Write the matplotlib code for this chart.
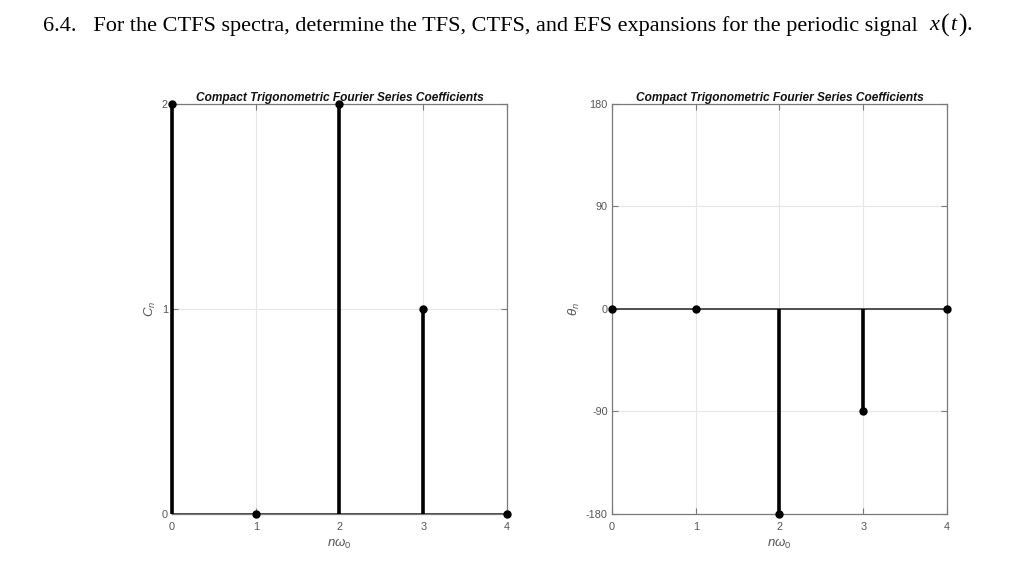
import matplotlib
matplotlib.use("Agg")
import matplotlib.pyplot as plt

n_values = [0, 1, 2, 3, 4]
cn_values = [2, 0, 2, 1, 0]
theta_values = [0, 0, -180, -90, 0]
cn_ticks = [0, 1, 2]
theta_ticks = [-180, -90, 0, 90, 180]
x_ticks = [0, 1, 2, 3, 4]
title_text = "Compact Trigonometric Fourier Series Coefficients"
header_main = "6.4.   For the CTFS spectra, determine the TFS, CTFS, and EFS expansions for the periodic signal  "

plt.rcParams['mathtext.fontset'] = 'custom'
plt.rcParams['mathtext.rm'] = 'Liberation Sans'
plt.rcParams['mathtext.it'] = 'Liberation Sans:italic'
plt.rcParams['mathtext.bf'] = 'Liberation Sans:bold'
plt.rcParams['axes.unicode_minus'] = False

fig = plt.figure(figsize=(10.24, 5.72), dpi=100)
fig.patch.set_facecolor('white')

# header built from pieces
renderer = fig.canvas.get_renderer()
hy = 0.955
pieces = [(header_main, 'normal', 16.0), ('x', 'italic', 16.0), ('(', 'normal', 18.5),
          ('t', 'italic', 16.0), (')', 'normal', 18.5), ('.', 'normal', 16.0)]
xpos = 0.042
for txt, sty, fs in pieces:
    t = fig.text(xpos, hy, txt, fontsize=fs, family='Liberation Serif', style=sty,
                 ha='left', va='center', color='black')
    bb = t.get_window_extent(renderer=renderer)
    xpos += bb.width / fig.bbox.width + (0.002 if sty == 'italic' else 0.0)

axcol = '#7a7a7a'
labcol = '#555555'

def style(ax, yticks, ylim, ylabel):
    ax.set_xlim(0, 4)
    ax.set_ylim(*ylim)
    ax.set_xticks(x_ticks)
    ax.set_yticks(yticks)
    ax.grid(True, color='#e6e6e6', linewidth=0.8)
    ax.set_axisbelow(True)
    for s in ax.spines.values():
        s.set_color(axcol)
        s.set_linewidth(0.9)
    ax.tick_params(direction='in', length=4, width=0.8, colors=axcol,
                   labelcolor=labcol, labelsize=7.8, top=True, right=True, pad=3)
    ax.tick_params(axis='x', pad=6)
    ax.set_title(title_text, fontsize=8.6, fontweight='bold', style='italic',
                 family='Liberation Sans', pad=2, color='#111111')
    ax.set_xlabel(r'$n\omega_{\mathit{0}}$', fontsize=9.5, color=labcol, labelpad=3)
    ax.set_ylabel(ylabel, fontsize=9.5, color=labcol, labelpad=3)
    for lab in ax.get_xticklabels() + ax.get_yticklabels():
        lab.set_family('Liberation Sans')

def draw(ax, vals):
    ml, sl, bl = ax.stem(n_values, vals, basefmt=' ')
    plt.setp(sl, color='black', linewidth=2.6, zorder=3, clip_on=False)
    plt.setp(ml, color='black', markersize=5, zorder=4, clip_on=False)
    ax.axhline(0, color='#333333', linewidth=1.2, zorder=2.6)

ax1 = fig.add_axes([0.168, 0.1014, 0.327, 0.717])
draw(ax1, cn_values)
style(ax1, cn_ticks, (0, 2), r'$C_n$')

ax2 = fig.add_axes([0.5977, 0.1014, 0.327, 0.717])
draw(ax2, theta_values)
style(ax2, theta_ticks, (-180, 180), r'$\theta_n$')

fig.savefig('out.png', dpi=100, facecolor='white')
